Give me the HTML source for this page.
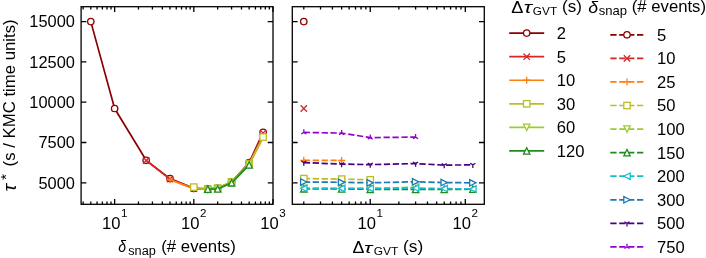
<!DOCTYPE html>
<html><head><meta charset="utf-8"><style>
html,body{margin:0;padding:0;background:#fff;}
body{width:706px;height:258px;overflow:hidden;font-family:"Liberation Sans",sans-serif;}
svg{display:block;will-change:transform;}
</style></head><body>
<svg width="706" height="258" viewBox="0 0 706 258" font-family="Liberation Sans, sans-serif">
<defs><clipPath id="cl"><rect x="81.1" y="6.7" width="191.9" height="197.60000000000002"/></clipPath><clipPath id="cr"><rect x="292.3" y="6.7" width="192.0" height="197.60000000000002"/></clipPath></defs>
<rect width="706" height="258" fill="#fff"/>
<g clip-path="url(#cl)"><path d="M90.80 21.60 L114.64 108.50 L146.14 160.30 L169.98 178.60 L193.81 188.40 L207.76 188.80 L217.65 188.30 L231.59 182.00 L249.16 162.60 L263.10 132.40" fill="none" stroke="#8b0000" stroke-width="1.7" stroke-linejoin="round"/><circle cx="90.80" cy="21.60" r="3.2" fill="#fff" stroke="#8b0000" stroke-width="1.3"/><circle cx="114.64" cy="108.50" r="3.2" fill="#fff" stroke="#8b0000" stroke-width="1.3"/><circle cx="146.14" cy="160.30" r="3.2" fill="#fff" stroke="#8b0000" stroke-width="1.3"/><circle cx="169.98" cy="178.60" r="3.2" fill="#fff" stroke="#8b0000" stroke-width="1.3"/><circle cx="193.81" cy="188.40" r="3.2" fill="#fff" stroke="#8b0000" stroke-width="1.3"/><circle cx="207.76" cy="188.80" r="3.2" fill="#fff" stroke="#8b0000" stroke-width="1.3"/><circle cx="217.65" cy="188.30" r="3.2" fill="#fff" stroke="#8b0000" stroke-width="1.3"/><circle cx="231.59" cy="182.00" r="3.2" fill="#fff" stroke="#8b0000" stroke-width="1.3"/><circle cx="249.16" cy="162.60" r="3.2" fill="#fff" stroke="#8b0000" stroke-width="1.3"/><circle cx="263.10" cy="132.40" r="3.2" fill="#fff" stroke="#8b0000" stroke-width="1.3"/><path d="M146.14 160.50 L169.98 179.10 L193.81 188.50 L207.76 189.00 L217.65 188.40 L231.59 182.30 L249.16 164.10 L263.10 133.10" fill="none" stroke="#d62728" stroke-width="1.7" stroke-linejoin="round"/><path d="M142.94 157.30L149.34 163.70M142.94 163.70L149.34 157.30" stroke="#d62728" stroke-width="1.3" fill="none"/><path d="M166.78 175.90L173.18 182.30M166.78 182.30L173.18 175.90" stroke="#d62728" stroke-width="1.3" fill="none"/><path d="M190.62 185.30L197.01 191.70M190.62 191.70L197.01 185.30" stroke="#d62728" stroke-width="1.3" fill="none"/><path d="M204.56 185.80L210.96 192.20M204.56 192.20L210.96 185.80" stroke="#d62728" stroke-width="1.3" fill="none"/><path d="M214.45 185.20L220.85 191.60M214.45 191.60L220.85 185.20" stroke="#d62728" stroke-width="1.3" fill="none"/><path d="M228.39 179.10L234.79 185.50M228.39 185.50L234.79 179.10" stroke="#d62728" stroke-width="1.3" fill="none"/><path d="M245.96 160.90L252.36 167.30M245.96 167.30L252.36 160.90" stroke="#d62728" stroke-width="1.3" fill="none"/><path d="M259.90 129.90L266.30 136.30M259.90 136.30L266.30 129.90" stroke="#d62728" stroke-width="1.3" fill="none"/><path d="M169.98 179.80 L193.81 188.60 L207.76 189.30 L217.65 188.40 L231.59 182.80 L249.16 164.60 L263.10 137.60" fill="none" stroke="#ff7f0e" stroke-width="1.7" stroke-linejoin="round"/><path d="M166.46 179.80H173.50M169.98 176.28V183.32" stroke="#ff7f0e" stroke-width="1.3" fill="none"/><path d="M190.29 188.60H197.34M193.81 185.08V192.12" stroke="#ff7f0e" stroke-width="1.3" fill="none"/><path d="M204.24 189.30H211.28M207.76 185.78V192.82" stroke="#ff7f0e" stroke-width="1.3" fill="none"/><path d="M214.13 188.40H221.17M217.65 184.88V191.92" stroke="#ff7f0e" stroke-width="1.3" fill="none"/><path d="M228.07 182.80H235.11M231.59 179.28V186.32" stroke="#ff7f0e" stroke-width="1.3" fill="none"/><path d="M245.64 164.60H252.68M249.16 161.08V168.12" stroke="#ff7f0e" stroke-width="1.3" fill="none"/><path d="M259.58 137.60H266.62M263.10 134.08V141.12" stroke="#ff7f0e" stroke-width="1.3" fill="none"/><path d="M193.81 187.10 L207.76 189.40 L217.65 188.10 L231.59 181.80 L249.16 163.60 L263.10 137.10" fill="none" stroke="#bcbd22" stroke-width="1.7" stroke-linejoin="round"/><rect x="190.62" y="183.90" width="6.4" height="6.4" fill="#fff" stroke="#bcbd22" stroke-width="1.3"/><rect x="204.56" y="186.20" width="6.4" height="6.4" fill="#fff" stroke="#bcbd22" stroke-width="1.3"/><rect x="214.45" y="184.90" width="6.4" height="6.4" fill="#fff" stroke="#bcbd22" stroke-width="1.3"/><rect x="228.39" y="178.60" width="6.4" height="6.4" fill="#fff" stroke="#bcbd22" stroke-width="1.3"/><rect x="245.96" y="160.40" width="6.4" height="6.4" fill="#fff" stroke="#bcbd22" stroke-width="1.3"/><rect x="259.90" y="133.90" width="6.4" height="6.4" fill="#fff" stroke="#bcbd22" stroke-width="1.3"/><path d="M207.76 189.50 L217.65 188.60 L231.59 182.60 L249.16 165.10" fill="none" stroke="#9acd32" stroke-width="1.7" stroke-linejoin="round"/><polygon points="207.76,192.70 204.56,186.30 210.96,186.30" fill="#fff" stroke="#9acd32" stroke-width="1.3" stroke-linejoin="miter"/><polygon points="217.65,191.80 214.45,185.40 220.85,185.40" fill="#fff" stroke="#9acd32" stroke-width="1.3" stroke-linejoin="miter"/><polygon points="231.59,185.80 228.39,179.40 234.79,179.40" fill="#fff" stroke="#9acd32" stroke-width="1.3" stroke-linejoin="miter"/><polygon points="249.16,168.30 245.96,161.90 252.36,161.90" fill="#fff" stroke="#9acd32" stroke-width="1.3" stroke-linejoin="miter"/><path d="M207.76 189.20 L217.65 189.00 L231.59 182.80 L249.16 164.90" fill="none" stroke="#1f8c1f" stroke-width="1.7" stroke-linejoin="round"/><polygon points="207.76,186.00 204.56,192.40 210.96,192.40" fill="#fff" stroke="#1f8c1f" stroke-width="1.3" stroke-linejoin="miter"/><polygon points="217.65,185.80 214.45,192.20 220.85,192.20" fill="#fff" stroke="#1f8c1f" stroke-width="1.3" stroke-linejoin="miter"/><polygon points="231.59,179.60 228.39,186.00 234.79,186.00" fill="#fff" stroke="#1f8c1f" stroke-width="1.3" stroke-linejoin="miter"/><polygon points="249.16,161.70 245.96,168.10 252.36,168.10" fill="#fff" stroke="#1f8c1f" stroke-width="1.3" stroke-linejoin="miter"/></g>
<g clip-path="url(#cr)"><path d="M303.79 21.60" fill="none" stroke="#8b0000" stroke-width="1.7" stroke-dasharray="6.3 2.6" stroke-linejoin="round"/><circle cx="303.79" cy="21.60" r="3.2" fill="#fff" stroke="#8b0000" stroke-width="1.3"/><path d="M303.79 108.50" fill="none" stroke="#d62728" stroke-width="1.7" stroke-dasharray="6.3 2.6" stroke-linejoin="round"/><path d="M300.59 105.30L306.99 111.70M300.59 111.70L306.99 105.30" stroke="#d62728" stroke-width="1.3" fill="none"/><path d="M303.79 160.30 L341.62 160.50" fill="none" stroke="#ff7f0e" stroke-width="1.7" stroke-dasharray="6.3 2.6" stroke-linejoin="round"/><path d="M300.27 160.30H307.31M303.79 156.78V163.82" stroke="#ff7f0e" stroke-width="1.3" fill="none"/><path d="M338.10 160.50H345.14M341.62 156.98V164.02" stroke="#ff7f0e" stroke-width="1.3" fill="none"/><path d="M303.79 178.60 L341.62 179.10 L370.24 179.80" fill="none" stroke="#bcbd22" stroke-width="1.7" stroke-dasharray="6.3 2.6" stroke-linejoin="round"/><rect x="300.59" y="175.40" width="6.4" height="6.4" fill="#fff" stroke="#bcbd22" stroke-width="1.3"/><rect x="338.42" y="175.90" width="6.4" height="6.4" fill="#fff" stroke="#bcbd22" stroke-width="1.3"/><rect x="367.04" y="176.60" width="6.4" height="6.4" fill="#fff" stroke="#bcbd22" stroke-width="1.3"/><path d="M303.79 188.40 L341.62 188.50 L370.24 188.60 L415.60 187.10" fill="none" stroke="#9acd32" stroke-width="1.7" stroke-dasharray="6.3 2.6" stroke-linejoin="round"/><polygon points="303.79,191.60 300.59,185.20 306.99,185.20" fill="#fff" stroke="#9acd32" stroke-width="1.3" stroke-linejoin="miter"/><polygon points="341.62,191.70 338.42,185.30 344.82,185.30" fill="#fff" stroke="#9acd32" stroke-width="1.3" stroke-linejoin="miter"/><polygon points="370.24,191.80 367.04,185.40 373.44,185.40" fill="#fff" stroke="#9acd32" stroke-width="1.3" stroke-linejoin="miter"/><polygon points="415.60,190.30 412.40,183.90 418.80,183.90" fill="#fff" stroke="#9acd32" stroke-width="1.3" stroke-linejoin="miter"/><path d="M303.79 188.80 L341.62 189.00 L370.24 189.30 L415.60 189.40 L444.22 189.50 L472.84 189.20" fill="none" stroke="#1f8c1f" stroke-width="1.7" stroke-dasharray="6.3 2.6" stroke-linejoin="round"/><polygon points="303.79,185.60 300.59,192.00 306.99,192.00" fill="#fff" stroke="#1f8c1f" stroke-width="1.3" stroke-linejoin="miter"/><polygon points="341.62,185.80 338.42,192.20 344.82,192.20" fill="#fff" stroke="#1f8c1f" stroke-width="1.3" stroke-linejoin="miter"/><polygon points="370.24,186.10 367.04,192.50 373.44,192.50" fill="#fff" stroke="#1f8c1f" stroke-width="1.3" stroke-linejoin="miter"/><polygon points="415.60,186.20 412.40,192.60 418.80,192.60" fill="#fff" stroke="#1f8c1f" stroke-width="1.3" stroke-linejoin="miter"/><polygon points="444.22,186.30 441.02,192.70 447.42,192.70" fill="#fff" stroke="#1f8c1f" stroke-width="1.3" stroke-linejoin="miter"/><polygon points="472.84,186.00 469.64,192.40 476.04,192.40" fill="#fff" stroke="#1f8c1f" stroke-width="1.3" stroke-linejoin="miter"/><path d="M303.79 188.30 L341.62 188.40 L370.24 188.40 L415.60 188.10 L444.22 188.60 L472.84 189.00" fill="none" stroke="#17becf" stroke-width="1.7" stroke-dasharray="6.3 2.6" stroke-linejoin="round"/><polygon points="300.59,188.30 306.99,185.10 306.99,191.50" fill="#fff" stroke="#17becf" stroke-width="1.3" stroke-linejoin="miter"/><polygon points="338.42,188.40 344.82,185.20 344.82,191.60" fill="#fff" stroke="#17becf" stroke-width="1.3" stroke-linejoin="miter"/><polygon points="367.04,188.40 373.44,185.20 373.44,191.60" fill="#fff" stroke="#17becf" stroke-width="1.3" stroke-linejoin="miter"/><polygon points="412.40,188.10 418.80,184.90 418.80,191.30" fill="#fff" stroke="#17becf" stroke-width="1.3" stroke-linejoin="miter"/><polygon points="441.02,188.60 447.42,185.40 447.42,191.80" fill="#fff" stroke="#17becf" stroke-width="1.3" stroke-linejoin="miter"/><polygon points="469.64,189.00 476.04,185.80 476.04,192.20" fill="#fff" stroke="#17becf" stroke-width="1.3" stroke-linejoin="miter"/><path d="M303.79 182.00 L341.62 182.30 L370.24 182.80 L415.60 181.80 L444.22 182.60 L472.84 182.80" fill="none" stroke="#1f77b4" stroke-width="1.7" stroke-dasharray="6.3 2.6" stroke-linejoin="round"/><polygon points="306.99,182.00 300.59,178.80 300.59,185.20" fill="#fff" stroke="#1f77b4" stroke-width="1.3" stroke-linejoin="miter"/><polygon points="344.82,182.30 338.42,179.10 338.42,185.50" fill="#fff" stroke="#1f77b4" stroke-width="1.3" stroke-linejoin="miter"/><polygon points="373.44,182.80 367.04,179.60 367.04,186.00" fill="#fff" stroke="#1f77b4" stroke-width="1.3" stroke-linejoin="miter"/><polygon points="418.80,181.80 412.40,178.60 412.40,185.00" fill="#fff" stroke="#1f77b4" stroke-width="1.3" stroke-linejoin="miter"/><polygon points="447.42,182.60 441.02,179.40 441.02,185.80" fill="#fff" stroke="#1f77b4" stroke-width="1.3" stroke-linejoin="miter"/><polygon points="476.04,182.80 469.64,179.60 469.64,186.00" fill="#fff" stroke="#1f77b4" stroke-width="1.3" stroke-linejoin="miter"/><path d="M303.79 162.60 L341.62 164.10 L370.24 164.60 L415.60 163.60 L444.22 165.10 L472.84 164.90" fill="none" stroke="#4b0082" stroke-width="1.7" stroke-dasharray="6.3 2.6" stroke-linejoin="round"/><path d="M303.79 162.60V165.80M303.79 162.60L306.35 161.00M303.79 162.60L301.23 161.00" stroke="#4b0082" stroke-width="1.3" fill="none"/><path d="M341.62 164.10V167.30M341.62 164.10L344.18 162.50M341.62 164.10L339.06 162.50" stroke="#4b0082" stroke-width="1.3" fill="none"/><path d="M370.24 164.60V167.80M370.24 164.60L372.80 163.00M370.24 164.60L367.68 163.00" stroke="#4b0082" stroke-width="1.3" fill="none"/><path d="M415.60 163.60V166.80M415.60 163.60L418.16 162.00M415.60 163.60L413.04 162.00" stroke="#4b0082" stroke-width="1.3" fill="none"/><path d="M444.22 165.10V168.30M444.22 165.10L446.78 163.50M444.22 165.10L441.66 163.50" stroke="#4b0082" stroke-width="1.3" fill="none"/><path d="M472.84 164.90V168.10M472.84 164.90L475.40 163.30M472.84 164.90L470.28 163.30" stroke="#4b0082" stroke-width="1.3" fill="none"/><path d="M303.79 132.40 L341.62 133.10 L370.24 137.60 L415.60 137.10" fill="none" stroke="#9400d3" stroke-width="1.7" stroke-dasharray="6.3 2.6" stroke-linejoin="round"/><path d="M303.79 132.40V129.20M303.79 132.40L306.35 134.00M303.79 132.40L301.23 134.00" stroke="#9400d3" stroke-width="1.3" fill="none"/><path d="M341.62 133.10V129.90M341.62 133.10L344.18 134.70M341.62 133.10L339.06 134.70" stroke="#9400d3" stroke-width="1.3" fill="none"/><path d="M370.24 137.60V134.40M370.24 137.60L372.80 139.20M370.24 137.60L367.68 139.20" stroke="#9400d3" stroke-width="1.3" fill="none"/><path d="M415.60 137.10V133.90M415.60 137.10L418.16 138.70M415.60 137.10L413.04 138.70" stroke="#9400d3" stroke-width="1.3" fill="none"/></g>
<path d="M114.64 204.30V199.00M114.64 6.70V12.00M193.81 204.30V199.00M193.81 6.70V12.00M273.00 204.30V199.00M273.00 6.70V12.00M83.13 204.30V201.40M83.13 6.70V9.60M90.80 204.30V201.40M90.80 6.70V9.60M97.07 204.30V201.40M97.07 6.70V9.60M102.37 204.30V201.40M102.37 6.70V9.60M106.96 204.30V201.40M106.96 6.70V9.60M111.01 204.30V201.40M111.01 6.70V9.60M138.47 204.30V201.40M138.47 6.70V9.60M152.41 204.30V201.40M152.41 6.70V9.60M162.31 204.30V201.40M162.31 6.70V9.60M169.98 204.30V201.40M169.98 6.70V9.60M176.25 204.30V201.40M176.25 6.70V9.60M181.55 204.30V201.40M181.55 6.70V9.60M186.14 204.30V201.40M186.14 6.70V9.60M190.19 204.30V201.40M190.19 6.70V9.60M217.65 204.30V201.40M217.65 6.70V9.60M231.59 204.30V201.40M231.59 6.70V9.60M241.49 204.30V201.40M241.49 6.70V9.60M249.16 204.30V201.40M249.16 6.70V9.60M255.43 204.30V201.40M255.43 6.70V9.60M260.73 204.30V201.40M260.73 6.70V9.60M265.32 204.30V201.40M265.32 6.70V9.60M269.37 204.30V201.40M269.37 6.70V9.60M81.10 182.80H86.40M273.00 182.80H267.70M81.10 142.50H86.40M273.00 142.50H267.70M81.10 102.20H86.40M273.00 102.20H267.70M81.10 61.90H86.40M273.00 61.90H267.70M81.10 21.60H86.40M273.00 21.60H267.70" stroke="#000" stroke-width="1.3" fill="none"/><rect x="81.1" y="6.7" width="191.90" height="197.60" fill="none" stroke="#000" stroke-width="1.3"/>
<path d="M370.24 204.30V199.00M370.24 6.70V12.00M465.31 204.30V199.00M465.31 6.70V12.00M303.79 204.30V201.40M303.79 6.70V9.60M320.53 204.30V201.40M320.53 6.70V9.60M332.41 204.30V201.40M332.41 6.70V9.60M341.62 204.30V201.40M341.62 6.70V9.60M349.15 204.30V201.40M349.15 6.70V9.60M355.51 204.30V201.40M355.51 6.70V9.60M361.03 204.30V201.40M361.03 6.70V9.60M365.89 204.30V201.40M365.89 6.70V9.60M398.86 204.30V201.40M398.86 6.70V9.60M415.60 204.30V201.40M415.60 6.70V9.60M427.48 204.30V201.40M427.48 6.70V9.60M436.69 204.30V201.40M436.69 6.70V9.60M444.22 204.30V201.40M444.22 6.70V9.60M450.58 204.30V201.40M450.58 6.70V9.60M456.10 204.30V201.40M456.10 6.70V9.60M460.96 204.30V201.40M460.96 6.70V9.60M292.30 182.80H297.60M484.30 182.80H479.00M292.30 142.50H297.60M484.30 142.50H479.00M292.30 102.20H297.60M484.30 102.20H479.00M292.30 61.90H297.60M484.30 61.90H479.00M292.30 21.60H297.60M484.30 21.60H479.00" stroke="#000" stroke-width="1.3" fill="none"/><rect x="292.3" y="6.7" width="192.00" height="197.60" fill="none" stroke="#000" stroke-width="1.3"/>
<text x="74.90" y="188.60" font-size="16.4" text-anchor="end">5000</text><text x="74.90" y="148.30" font-size="16.4" text-anchor="end">7500</text><text x="74.90" y="108.00" font-size="16.4" text-anchor="end">10000</text><text x="74.90" y="67.70" font-size="16.4" text-anchor="end">12500</text><text x="74.90" y="27.40" font-size="16.4" text-anchor="end">15000</text><text x="101.93" y="229.00" font-size="16.6" text-anchor="start">10</text><text x="120.89" y="216.90" font-size="11.6" text-anchor="start">1</text><text x="181.11" y="229.00" font-size="16.6" text-anchor="start">10</text><text x="200.07" y="216.90" font-size="11.6" text-anchor="start">2</text><text x="260.29" y="229.00" font-size="16.6" text-anchor="start">10</text><text x="279.25" y="216.90" font-size="11.6" text-anchor="start">3</text><text x="357.54" y="229.00" font-size="16.6" text-anchor="start">10</text><text x="376.49" y="216.90" font-size="11.6" text-anchor="start">1</text><text x="452.61" y="229.00" font-size="16.6" text-anchor="start">10</text><text x="471.56" y="216.90" font-size="11.6" text-anchor="start">2</text><text x="118.18" y="252.41" font-size="15.86" font-style="italic" textLength="7.81" lengthAdjust="spacingAndGlyphs">δ</text><text x="128.27" y="255.30" font-size="12.41" textLength="27.58" lengthAdjust="spacingAndGlyphs">snap</text><text x="161.29" y="252.37" font-size="16.35" textLength="74.53" lengthAdjust="spacingAndGlyphs">(# events)</text><text x="352.57" y="253.00" font-size="16.53" textLength="11.91" lengthAdjust="spacingAndGlyphs">Δ</text><text x="364.00" y="252.82" font-size="14.82" font-style="italic" textLength="8.35" lengthAdjust="spacingAndGlyphs">τ</text><text x="373.69" y="255.11" font-size="10.26" textLength="24.51" lengthAdjust="spacingAndGlyphs">GVT</text><text x="403.06" y="252.37" font-size="16.35" textLength="20.22" lengthAdjust="spacingAndGlyphs">(s)</text><text x="511.36" y="12.50" font-size="16.53" textLength="12.13" lengthAdjust="spacingAndGlyphs">Δ</text><text x="523.71" y="12.50" font-size="16.86" font-style="italic" textLength="8.25" lengthAdjust="spacingAndGlyphs">τ</text><text x="532.89" y="15.01" font-size="10.83" textLength="24.20" lengthAdjust="spacingAndGlyphs">GVT</text><text x="562.08" y="12.38" font-size="16.78" textLength="19.88" lengthAdjust="spacingAndGlyphs">(s)</text><text x="588.27" y="12.60" font-size="16.67" font-style="italic" textLength="9.89" lengthAdjust="spacingAndGlyphs">δ</text><text x="598.76" y="15.10" font-size="12.97" textLength="28.30" lengthAdjust="spacingAndGlyphs">snap</text><text x="631.80" y="12.43" font-size="16.99" textLength="74.22" lengthAdjust="spacingAndGlyphs">(# events)</text><text x="-191.62" y="15.78" font-size="18.34" font-style="italic" textLength="7.48" lengthAdjust="spacingAndGlyphs" transform="rotate(-90)">τ</text><text x="-179.97" y="10.98" font-size="14.23" textLength="6.09" lengthAdjust="spacingAndGlyphs" transform="rotate(-90)">*</text><text x="-166.40" y="14.87" font-size="16.35" textLength="147.04" lengthAdjust="spacingAndGlyphs" transform="rotate(-90)">(s / KMC time units)</text>
<path d="M509.2 33.10H544.2" stroke="#8b0000" stroke-width="1.7"/><circle cx="526.70" cy="33.10" r="3.2" fill="#fff" stroke="#8b0000" stroke-width="1.3"/><text x="556.70" y="39.00" font-size="16.6" text-anchor="start">2</text><path d="M509.2 56.67H544.2" stroke="#d62728" stroke-width="1.7"/><path d="M523.50 53.47L529.90 59.87M523.50 59.87L529.90 53.47" stroke="#d62728" stroke-width="1.3" fill="none"/><text x="556.70" y="62.57" font-size="16.6" text-anchor="start">5</text><path d="M509.2 80.24H544.2" stroke="#ff7f0e" stroke-width="1.7"/><path d="M523.18 80.24H530.22M526.70 76.72V83.76" stroke="#ff7f0e" stroke-width="1.3" fill="none"/><text x="556.70" y="86.14" font-size="16.6" text-anchor="start">10</text><path d="M509.2 103.81H544.2" stroke="#bcbd22" stroke-width="1.7"/><rect x="523.50" y="100.61" width="6.4" height="6.4" fill="#fff" stroke="#bcbd22" stroke-width="1.3"/><text x="556.70" y="109.71" font-size="16.6" text-anchor="start">30</text><path d="M509.2 127.38H544.2" stroke="#9acd32" stroke-width="1.7"/><polygon points="526.70,130.58 523.50,124.18 529.90,124.18" fill="#fff" stroke="#9acd32" stroke-width="1.3" stroke-linejoin="miter"/><text x="556.70" y="133.28" font-size="16.6" text-anchor="start">60</text><path d="M509.2 150.95H544.2" stroke="#1f8c1f" stroke-width="1.7"/><polygon points="526.70,147.75 523.50,154.15 529.90,154.15" fill="#fff" stroke="#1f8c1f" stroke-width="1.3" stroke-linejoin="miter"/><text x="556.70" y="156.85" font-size="16.6" text-anchor="start">120</text><path d="M610.3 34.80H645.3" stroke="#8b0000" stroke-width="1.7" stroke-dasharray="6.3 2.6"/><circle cx="627.00" cy="34.80" r="3.2" fill="#fff" stroke="#8b0000" stroke-width="1.3"/><text x="657.00" y="40.70" font-size="16.6" text-anchor="start">5</text><path d="M610.3 58.37H645.3" stroke="#d62728" stroke-width="1.7" stroke-dasharray="6.3 2.6"/><path d="M623.80 55.17L630.20 61.57M623.80 61.57L630.20 55.17" stroke="#d62728" stroke-width="1.3" fill="none"/><text x="657.00" y="64.27" font-size="16.6" text-anchor="start">10</text><path d="M610.3 81.94H645.3" stroke="#ff7f0e" stroke-width="1.7" stroke-dasharray="6.3 2.6"/><path d="M623.48 81.94H630.52M627.00 78.42V85.46" stroke="#ff7f0e" stroke-width="1.3" fill="none"/><text x="657.00" y="87.84" font-size="16.6" text-anchor="start">25</text><path d="M610.3 105.51H645.3" stroke="#bcbd22" stroke-width="1.7" stroke-dasharray="6.3 2.6"/><rect x="623.80" y="102.31" width="6.4" height="6.4" fill="#fff" stroke="#bcbd22" stroke-width="1.3"/><text x="657.00" y="111.41" font-size="16.6" text-anchor="start">50</text><path d="M610.3 129.08H645.3" stroke="#9acd32" stroke-width="1.7" stroke-dasharray="6.3 2.6"/><polygon points="627.00,132.28 623.80,125.88 630.20,125.88" fill="#fff" stroke="#9acd32" stroke-width="1.3" stroke-linejoin="miter"/><text x="657.00" y="134.98" font-size="16.6" text-anchor="start">100</text><path d="M610.3 152.65H645.3" stroke="#1f8c1f" stroke-width="1.7" stroke-dasharray="6.3 2.6"/><polygon points="627.00,149.45 623.80,155.85 630.20,155.85" fill="#fff" stroke="#1f8c1f" stroke-width="1.3" stroke-linejoin="miter"/><text x="657.00" y="158.55" font-size="16.6" text-anchor="start">150</text><path d="M610.3 176.22H645.3" stroke="#17becf" stroke-width="1.7" stroke-dasharray="6.3 2.6"/><polygon points="623.80,176.22 630.20,173.02 630.20,179.42" fill="#fff" stroke="#17becf" stroke-width="1.3" stroke-linejoin="miter"/><text x="657.00" y="182.12" font-size="16.6" text-anchor="start">200</text><path d="M610.3 199.79H645.3" stroke="#1f77b4" stroke-width="1.7" stroke-dasharray="6.3 2.6"/><polygon points="630.20,199.79 623.80,196.59 623.80,202.99" fill="#fff" stroke="#1f77b4" stroke-width="1.3" stroke-linejoin="miter"/><text x="657.00" y="205.69" font-size="16.6" text-anchor="start">300</text><path d="M610.3 223.36H645.3" stroke="#4b0082" stroke-width="1.7" stroke-dasharray="6.3 2.6"/><path d="M627.00 223.36V226.56M627.00 223.36L629.56 221.76M627.00 223.36L624.44 221.76" stroke="#4b0082" stroke-width="1.3" fill="none"/><text x="657.00" y="229.26" font-size="16.6" text-anchor="start">500</text><path d="M610.3 246.93H645.3" stroke="#9400d3" stroke-width="1.7" stroke-dasharray="6.3 2.6"/><path d="M627.00 246.93V243.73M627.00 246.93L629.56 248.53M627.00 246.93L624.44 248.53" stroke="#9400d3" stroke-width="1.3" fill="none"/><text x="657.00" y="252.83" font-size="16.6" text-anchor="start">750</text>
</svg>
</body></html>
